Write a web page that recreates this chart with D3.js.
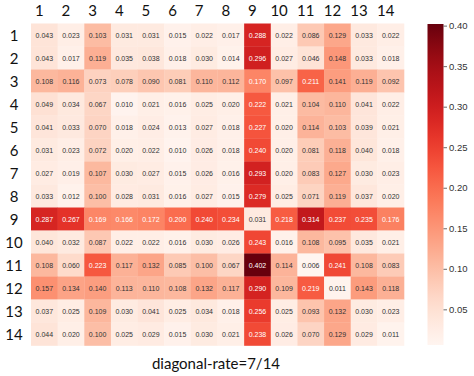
<!DOCTYPE html>
<html><head><meta charset="utf-8">
<script src="https://cdn.jsdelivr.net/npm/d3@7"></script>
<style>body{margin:0;background:#fff}svg{display:block}</style>
</head><body>
<svg id="c" width="474" height="376"></svg>
<script>
const labels = ["1","2","3","4","5","6","7","8","9","10","11","12","13","14"];
const row1  = [0.043,0.023,0.103,0.031,0.031,0.015,0.022,0.017,0.288,0.022,0.086,0.129,0.033,0.022];
const row2  = [0.043,0.017,0.119,0.035,0.038,0.018,0.030,0.014,0.296,0.027,0.046,0.148,0.033,0.018];
const row3  = [0.108,0.116,0.073,0.078,0.090,0.081,0.110,0.112,0.170,0.097,0.211,0.141,0.119,0.092];
const row4  = [0.049,0.034,0.067,0.010,0.021,0.016,0.025,0.020,0.222,0.021,0.104,0.110,0.041,0.022];
const row5  = [0.041,0.033,0.070,0.018,0.024,0.013,0.027,0.018,0.227,0.020,0.114,0.103,0.039,0.021];
const row6  = [0.031,0.023,0.072,0.020,0.022,0.010,0.026,0.018,0.240,0.020,0.081,0.118,0.040,0.018];
const row7  = [0.027,0.019,0.107,0.030,0.027,0.015,0.026,0.016,0.293,0.020,0.083,0.127,0.030,0.023];
const row8  = [0.033,0.012,0.100,0.028,0.031,0.016,0.027,0.015,0.279,0.025,0.071,0.119,0.037,0.020];
const row9  = [0.287,0.267,0.169,0.166,0.172,0.200,0.240,0.234,0.031,0.218,0.314,0.237,0.235,0.176];
const row10 = [0.040,0.032,0.087,0.022,0.022,0.016,0.030,0.026,0.243,0.016,0.108,0.095,0.035,0.021];
const row11 = [0.108,0.060,0.223,0.117,0.132,0.085,0.100,0.067,0.402,0.114,0.006,0.241,0.108,0.083];
const row12 = [0.157,0.134,0.140,0.113,0.110,0.108,0.132,0.117,0.290,0.109,0.219,0.011,0.143,0.118];
const row13 = [0.037,0.025,0.109,0.030,0.041,0.025,0.034,0.018,0.256,0.025,0.093,0.132,0.030,0.023];
const row14 = [0.044,0.020,0.100,0.025,0.029,0.015,0.030,0.021,0.238,0.026,0.070,0.129,0.029,0.011];
const colorTicks = [0.05,0.10,0.15,0.20,0.25,0.30,0.35,0.40];
const caption = "diagonal-rate=7/14";

const rows = [row1,row2,row3,row4,row5,row6,row7,row8,row9,row10,row11,row12,row13,row14];
const cells = [];
rows.forEach((r,i)=>r.forEach((v,j)=>cells.push({r:labels[i],c:labels[j],v})));
const all = cells.map(d=>d.v);
const vmin = d3.min(all), vmax = d3.max(all);

const svg = d3.select("#c");
const L=31, R=404, T=23.5, B=345.5;
const x = d3.scaleBand().domain(labels).range([L,R]);
const y = d3.scaleBand().domain(labels).range([T,B]);
const color = d3.scaleSequential(d3.interpolateReds).domain([vmin,vmax]);

svg.append("g").selectAll("rect").data(cells).join("rect")
  .attr("x",d=>x(d.c)).attr("y",d=>y(d.r))
  .attr("width",x.bandwidth()+0.3).attr("height",y.bandwidth()+0.3)
  .attr("fill",d=>color(d.v));

svg.append("g").selectAll("text").data(cells).join("text")
  .attr("x",d=>x(d.c)+x.bandwidth()/2).attr("y",d=>y(d.r)+y.bandwidth()/2)
  .attr("text-anchor","middle").attr("dominant-baseline","central")
  .attr("font-family","Liberation Sans, Arial, sans-serif").attr("font-size",7)
  .attr("fill",d=>d.v>0.16?"#ffffff":"#333333")
  .text(d=>d.v.toFixed(3));

// column labels (top)
svg.append("g").selectAll("text").data(labels).join("text")
  .attr("x",d=>x(d)+x.bandwidth()/2-5).attr("y",16)
  .attr("text-anchor","middle").attr("font-family","Lato, Carlito, sans-serif")
  .attr("font-size",15).attr("fill","#111").text(d=>d);

// row labels (left)
svg.append("g").selectAll("text").data(labels).join("text")
  .attr("x",14).attr("y",d=>y(d)+y.bandwidth()/2)
  .attr("dominant-baseline","central")
  .attr("text-anchor","middle").attr("font-family","Lato, Carlito, sans-serif")
  .attr("font-size",15).attr("fill","#111").text(d=>d);

// colorbar
const cbX=427.5, cbW=16;
const cy = d3.scaleLinear().domain([vmin,vmax]).range([B-0.5,T+0.5]);
const defs = svg.append("defs");
const grad = defs.append("linearGradient").attr("id","g").attr("x1",0).attr("y1",1).attr("x2",0).attr("y2",0);
d3.range(0,1.0001,0.05).forEach(t=>grad.append("stop").attr("offset",t).attr("stop-color",d3.interpolateReds(t)));
svg.append("rect").attr("x",cbX).attr("y",cy(vmax)).attr("width",cbW).attr("height",cy(vmin)-cy(vmax)).attr("fill","url(#g)");
const ax = svg.append("g").attr("transform",`translate(${cbX+cbW},0)`)
  .call(d3.axisRight(cy).tickValues(colorTicks).tickFormat(d3.format(".2f")).tickSize(3.5).tickPadding(2));
ax.select(".domain").remove();
ax.selectAll("line").attr("stroke","#444").attr("stroke-width",0.8);
ax.selectAll("text").attr("font-family","Liberation Sans, Arial, sans-serif").attr("font-size",9.5).attr("fill","#333");

svg.append("text").attr("x",216).attr("y",369).attr("text-anchor","middle")
  .attr("font-family","Lato, Carlito, sans-serif").attr("font-size",15).attr("fill","#111").text(caption);
</script>
</body></html>
